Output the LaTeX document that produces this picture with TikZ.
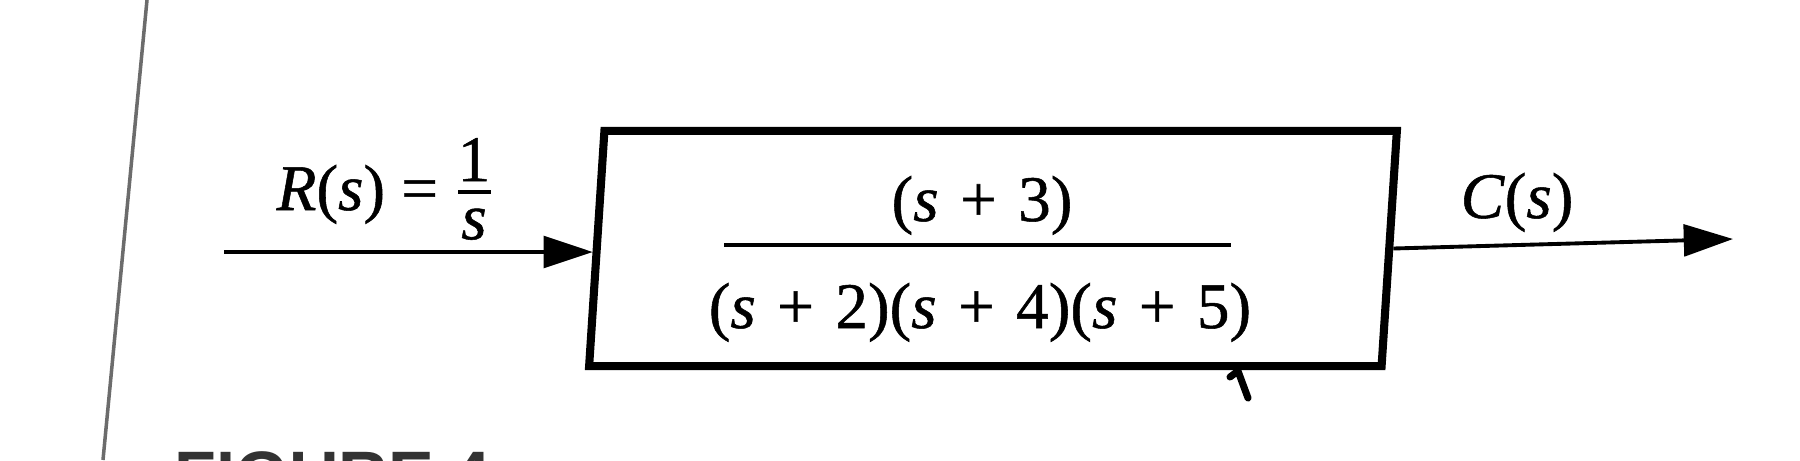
\documentclass[tikz,border=0pt]{standalone}
\usepackage{fontspec}
\setmainfont{Liberation Serif}[FakeBold=0.8]
\newfontfamily\figfont{Liberation Sans}
\usetikzlibrary{arrows.meta}
\newcommand\pls{\hspace{0.33em}+\hspace{0.33em}}
\begin{document}
\begin{tikzpicture}[x=0.01cm,y=-0.01cm,
  lbl/.style={inner sep=0pt, font=\fontsize{18.5}{22}\selectfont, anchor=base},
  blockbox/.style={draw, line width=2.3pt, minimum width=7.92cm, minimum height=2.35cm, inner sep=0pt, xslant=0.065},
  sig/.style={line width=1.1pt, -{Triangle[length=14pt,width=9pt]}},
  fracbar/.style={line width=1.2pt},
]
\useasboundingbox (0,0) rectangle (1800,460);
\clip (0,0) rectangle (1800,460);
\fill[white] (0,0) rectangle (1800,460);

% page edge
\draw[gray!85!black, line width=1pt] (147,0) -- (103,460);

% block
\node[blockbox] (box) at (993,248.5) {};
\node[lbl] (num) at (982,221) {(\textit{s}\pls 3)};
\node[lbl] (den) at (980,328) {(\textit{s}\pls 2)(\textit{s}\pls 4)(\textit{s}\pls 5)};
\coordinate (barL) at (724,245);
\coordinate (barR) at (1231,245);
\draw[fracbar] (barL) -- (barR);

% input label
\node[lbl, anchor=base west] (rlbl) at (276,210) {\textit{R}(\textit{s}) =};
\node[inner sep=0pt, align=center, font=\fontsize{18.5}{16.5}\selectfont, anchor=center] (rfrac) at (474,189) {1\\\textit{s}};
\coordinate (rbarL) at (458,192);
\coordinate (rbarR) at (491,192);
\draw[fracbar] (rbarL) -- (rbarR);

% output label
\node[lbl, anchor=base west] (clbl) at (1460,218) {\textit{C}(\textit{s})};

% signals
\coordinate (inStart) at (224,252);
\draw[sig] (inStart) -- (inStart -| box.west);
\coordinate (outEnd) at (1733,239);
\draw[sig] (box.east) -- (outEnd);

% pen mark below block
\draw[line width=2pt, line cap=round, line join=round] (1230,377) -- (1238,371) -- (1248,398);

% caption (cut off at the bottom, as in the reference)
\node[anchor=base west, inner sep=0pt, font=\figfont\bfseries\fontsize{19.5}{22}\selectfont, text=black!80] (figcap) at (174,499) {FIGURE 4.};
\end{tikzpicture}
\end{document}
